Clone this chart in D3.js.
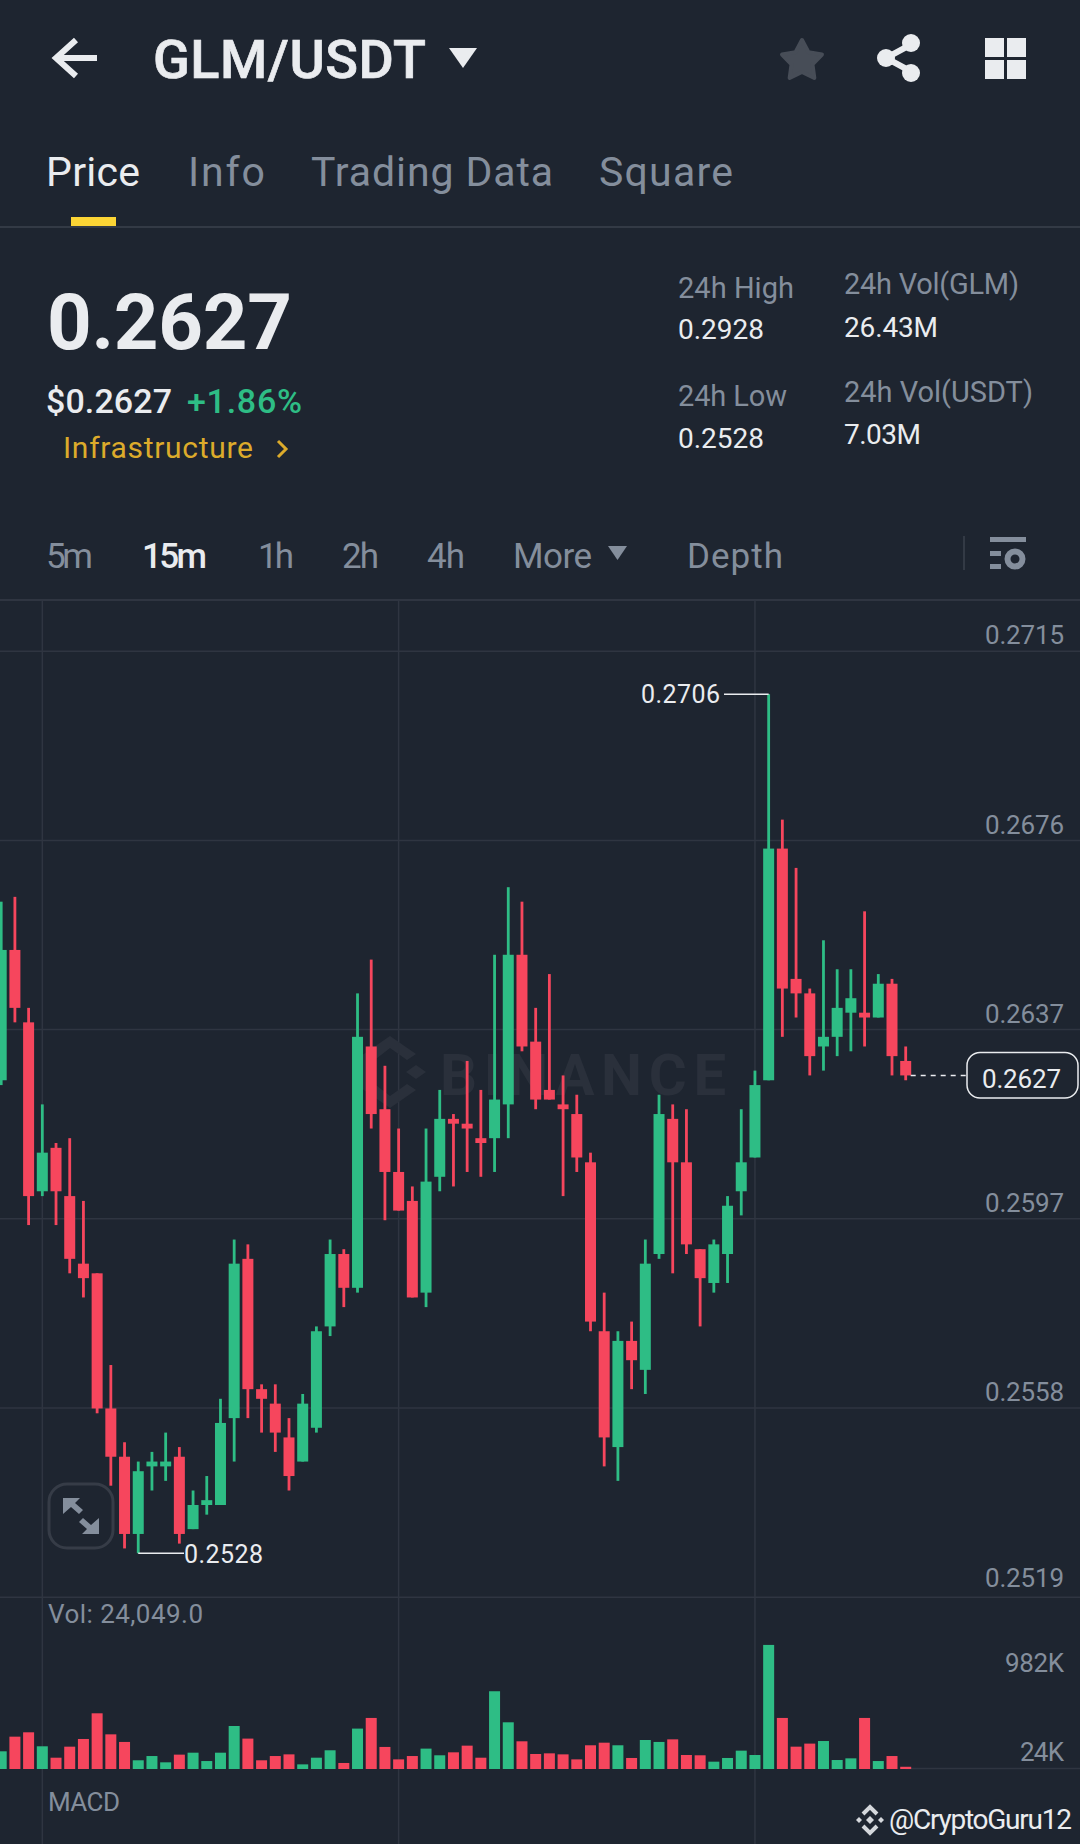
<!DOCTYPE html>
<html>
<head>
<meta charset="utf-8">
<title>GLM/USDT</title>
<script src="https://cdn.jsdelivr.net/npm/d3@7"></script>
<style>
  html, body { margin: 0; padding: 0; background: #1e2530; }
  svg { display: block; }
  text { font-family: Roboto, "Noto Sans", sans-serif; }
</style>
</head>
<body>
<div id="chart"></div>
<script>
// 15m candles, oldest first
var candleOpen = [0.2626,0.2653,0.2638,0.2603,0.2612,0.2602,0.2588,0.2586,0.2558,0.2548,0.2532,0.2546,0.2546,0.2548,0.2533,0.2538,0.2538,0.2556,0.2589,0.2562,0.2559,0.2552,0.2547,0.2554,0.2575,0.2590,0.2583,0.2633,0.2620,0.2607,0.2601,0.2582,0.2606,0.2618,0.2617,0.2614,0.2614,0.2621,0.2652,0.2634,0.2624,0.2621,0.2619,0.2609,0.2574,0.2550,0.2572,0.2566,0.2590,0.2618,0.2609,0.2591,0.2584,0.2590,0.2603,0.2610,0.2626,0.2674,0.2647,0.2644,0.2633,0.2635,0.2640,0.2640,0.2639,0.2646,0.2630];
var candleClose = [0.2653,0.2641,0.2602,0.2611,0.2603,0.2589,0.2585,0.2558,0.2548,0.2532,0.2545,0.2547,0.2547,0.2532,0.2538,0.2539,0.2555,0.2588,0.2562,0.2560,0.2553,0.2544,0.2559,0.2574,0.2590,0.2583,0.2635,0.2619,0.2607,0.2599,0.2581,0.2605,0.2618,0.2617,0.2616,0.2613,0.2622,0.2652,0.2633,0.2622,0.2622,0.2620,0.2610,0.2576,0.2552,0.2572,0.2568,0.2588,0.2619,0.2609,0.2592,0.2585,0.2592,0.2600,0.2609,0.2625,0.2674,0.2645,0.2644,0.2631,0.2635,0.2641,0.2643,0.2639,0.2646,0.2631,0.2627];
var candleHigh = [0.2663,0.2664,0.2641,0.2621,0.2613,0.2614,0.2601,0.2586,0.2567,0.2551,0.2547,0.2549,0.2553,0.2550,0.2541,0.2544,0.2560,0.2593,0.2592,0.2563,0.2563,0.2556,0.2561,0.2575,0.2593,0.2591,0.2644,0.2651,0.2629,0.2616,0.2604,0.2616,0.2624,0.2619,0.2630,0.2624,0.2652,0.2666,0.2663,0.2641,0.2648,0.2627,0.2623,0.2611,0.2582,0.2574,0.2576,0.2593,0.2623,0.2621,0.2620,0.2591,0.2593,0.2602,0.2620,0.2628,0.2706,0.2680,0.2670,0.2645,0.2655,0.2649,0.2649,0.2661,0.2648,0.2647,0.2633];
var candleLow = [0.2625,0.2638,0.2596,0.2602,0.2596,0.2586,0.2581,0.2557,0.2542,0.2529,0.2528,0.2541,0.2543,0.2530,0.2533,0.2536,0.2538,0.2547,0.2556,0.2553,0.2549,0.2541,0.2547,0.2553,0.2573,0.2579,0.2582,0.2616,0.2597,0.2599,0.2581,0.2579,0.2603,0.2604,0.2607,0.2606,0.2607,0.2614,0.2632,0.2620,0.2622,0.2602,0.2607,0.2574,0.2546,0.2543,0.2562,0.2561,0.2589,0.2586,0.2590,0.2575,0.2582,0.2584,0.2598,0.2610,0.2626,0.2635,0.2639,0.2627,0.2628,0.2631,0.2632,0.2633,0.2639,0.2627,0.2626];
// volume per candle, in thousands
var volumes = [191,349,396,245,122,241,324,601,374,292,94,140,72,155,176,86,176,464,328,94,140,158,50,122,202,65,436,551,238,104,140,220,148,180,252,122,839,504,299,162,169,158,104,256,284,256,119,313,292,320,151,148,79,119,198,151,1339,551,241,274,302,97,115,551,86,140,24.049];

var priceTicks = [0.2715,0.26758,0.26366,0.25974,0.25582,0.2519];
var volumeTicks = [24,982];
var volumeLabels = ["24K","982K"];
var volumeLabelWidths = [44,59];
var verticalGridCandles = [3,29,55];

var tabs = [["Price",46,94,"#eaecef"],["Info",188,77,"#848e9c"],["Trading Data",311,242,"#848e9c"],["Square",599,134,"#848e9c"]];
var intervals = [["5m",46,47],["15m",142,65],["1h",258,36],["2h",342,37],["4h",427,38],["More",513,79],["Depth",687,96]];

var UP = "#2ebd85", DOWN = "#f6465d", GREY = "#848e9c", LIGHT = "#eaecef", GRID = "#2f3541";

var svg = d3.select("#chart").append("svg").attr("width",1080).attr("height",1844);
svg.append("rect").attr("width",1080).attr("height",1844).attr("fill","#1e2530");

var x = d3.scaleLinear().domain([0,66]).range([1.2,905.7]);
var y = d3.scaleLinear().domain([0.2715,0.2519]).range([650.7,1596.7]);
var yVol = d3.scaleLinear().domain([0,982]).range([1769,1678]);

// width stretches the text to what the picture measures, the font is narrower
function label(txt, px, py, size, color, width, weight, anchor) {
    var t = svg.append("text").text(txt).attr("x",px).attr("y",py)
        .attr("font-size",size).attr("fill",color)
        .attr("font-weight",weight || 400)
        .attr("text-anchor",anchor || "start");
    if (width) t.attr("textLength",width);
    return t;
}

function drawHeader() {
    // back arrow
    svg.append("path").attr("d","M76 40 L56 58 L76 76 M57 58 H97")
        .attr("fill","none").attr("stroke",LIGHT).attr("stroke-width",6);
    label("GLM/USDT",153,78,54,LIGHT,273,500).attr("stroke",LIGHT).attr("stroke-width",0.7);
    svg.append("path").attr("d","M449 48 H477 L463 68 Z").attr("fill",LIGHT);

    // star, share, grid icons
    var star = d3.lineRadial().curve(d3.curveLinearClosed)
        .angle(function(d, i) { return i*Math.PI/5; })
        .radius(function(d, i) { return i%2 ? 11 : 21; });
    svg.append("path").attr("d",star(d3.range(10))).attr("transform","translate(802,61)")
        .attr("fill","#474d57").attr("stroke","#474d57").attr("stroke-width",4).attr("stroke-linejoin","round");
    svg.append("path").attr("d","M912 44 L886 58 L912 72").attr("fill","none")
        .attr("stroke",LIGHT).attr("stroke-width",6);
    [[911,43],[886,58],[911,73]].forEach(function(p) {
        svg.append("circle").attr("cx",p[0]).attr("cy",p[1]).attr("r",9).attr("fill",LIGHT);
    });
    [[985,38],[1007,38],[985,60],[1007,60]].forEach(function(p) {
        svg.append("rect").attr("x",p[0]).attr("y",p[1]).attr("width",19).attr("height",19).attr("fill",LIGHT);
    });

    // tabs
    tabs.forEach(function(t) { label(t[0],t[1],186,41,t[3],t[2]); });
    svg.append("rect").attr("x",71).attr("y",217).attr("width",45).attr("height",9).attr("fill","#fcd535");
    svg.append("line").attr("x1",0).attr("x2",1080).attr("y1",227).attr("y2",227).attr("stroke","#333a45").attr("stroke-width",2);

    // price block
    label("0.2627",47,349,78,LIGHT,245,700);
    label("$0.2627",46,413,34,LIGHT,126,500);
    label("+1.86%",187,413,34,UP,115,500);
    label("Infrastructure",63,458,30,"#dcab2b",190);
    svg.append("path").attr("d","M278 441 L286 449 L278 457").attr("fill","none").attr("stroke","#dcab2b").attr("stroke-width",3);

    label("24h High",678,298,29,GREY,116);
    label("0.2928",678,339,28,LIGHT,86);
    label("24h Low",678,406,29,GREY,109);
    label("0.2528",678,448,28,LIGHT,86);
    label("24h Vol(GLM)",844,294,29,GREY,175);
    label("26.43M",844,337,28,LIGHT,94);
    label("24h Vol(USDT)",844,402,29,GREY,189);
    label("7.03M",844,444,28,LIGHT,77);

    // interval row
    intervals.forEach(function(t) {
        var on = t[0] == "15m";
        label(t[0],t[1],568,35,on ? LIGHT : GREY,t[2],on ? 500 : 400);
    });
    svg.append("path").attr("d","M608 546 H627 L617.5 560 Z").attr("fill",GREY);
    svg.append("line").attr("x1",964).attr("x2",964).attr("y1",536).attr("y2",570).attr("stroke","#333a45").attr("stroke-width",2);
    svg.append("rect").attr("x",990).attr("y",537).attr("width",36).attr("height",5).attr("fill",GREY);
    svg.append("rect").attr("x",990).attr("y",551).attr("width",11).attr("height",5).attr("fill",GREY);
    svg.append("rect").attr("x",990).attr("y",564).attr("width",11).attr("height",5).attr("fill",GREY);
    svg.append("circle").attr("cx",1015).attr("cy",559).attr("r",7.5).attr("fill","none").attr("stroke",GREY).attr("stroke-width",6);
}

function drawGrid() {
    svg.append("line").attr("x1",0).attr("x2",1080).attr("y1",600).attr("y2",600).attr("stroke",GRID).attr("stroke-width",2);
    svg.selectAll(".vgrid").data(verticalGridCandles).enter().append("line")
        .attr("class","vgrid")
        .attr("x1",function(d) { return x(d); }).attr("x2",function(d) { return x(d); })
        .attr("y1",600).attr("y2",1844)
        .attr("stroke",GRID).attr("stroke-width",1.5);

    var axis = d3.axisLeft(y).tickValues(priceTicks).tickSize(1080).tickFormat(d3.format(".4f"));
    var g = svg.append("g").attr("transform","translate(1080,0)").call(axis);
    g.select(".domain").remove();
    g.selectAll("line").attr("stroke",GRID).attr("stroke-width",1.5);
    // the lowest label sits a little higher than the others
    g.selectAll("text").attr("x",-16).attr("dy",function(d, i) { return i == 5 ? -10.3 : -6.8; })
        .attr("text-anchor","end").attr("font-size",26).attr("fill",GREY)
        .attr("textLength",79);
}

function drawWatermark() {
    // faint exchange mark under the candles
    var mark = svg.append("g").attr("fill","#2a303b");
    mark.append("path").attr("transform","translate(390,1072)")
        .attr("d","M0 -36 L26 -18 L17 -12 L0 -24 L-18 -10 L-18 10 L0 24 L17 12 L26 18 L0 36 L-32 14 L-32 -14 Z");
    mark.append("path").attr("transform","translate(390,1072)").attr("d","M26 -7 L36 0 L26 7 L16 0 Z");
    label("BINANCE",440,1095,58,"#2a303b",286,700);
}

function drawCandles() {
    var data = d3.range(candleOpen.length);
    var colour = function(i) { return candleClose[i] >= candleOpen[i] ? UP : DOWN; };

    svg.selectAll(".wick").data(data).enter().append("rect")
        .attr("class","wick")
        .attr("x",function(i) { return x(i)-1.4; })
        .attr("y",function(i) { return y(candleHigh[i]); })
        .attr("width",2.8)
        .attr("height",function(i) { return y(candleLow[i])-y(candleHigh[i]); })
        .attr("fill",colour);

    svg.selectAll(".body").data(data).enter().append("rect")
        .attr("class","body")
        .attr("x",function(i) { return x(i)-5.5; })
        .attr("y",function(i) { return y(Math.max(candleOpen[i],candleClose[i])); })
        .attr("width",11)
        .attr("height",function(i) { return Math.abs(y(candleOpen[i])-y(candleClose[i])); })
        .attr("fill",colour);

    // high and low markers
    svg.append("path").attr("d","M"+x(56)+" "+y(0.2706)+" H724").attr("fill","none").attr("stroke",LIGHT).attr("stroke-width",1.5);
    label("0.2706",720,703,25,LIGHT,79,400,"end");
    svg.append("path").attr("d","M"+x(10)+" "+y(0.2528)+" H184").attr("fill","none").attr("stroke",LIGHT).attr("stroke-width",1.5);
    label("0.2528",184,1563,25,LIGHT,79);

    // last price tag
    svg.append("line").attr("x1",x(66)+5).attr("x2",967).attr("y1",y(0.2627)).attr("y2",y(0.2627))
        .attr("stroke",LIGHT).attr("stroke-width",1.5).attr("stroke-dasharray","5 5");
    svg.append("rect").attr("x",967).attr("y",1052.5).attr("width",111).attr("height",45.5).attr("rx",13)
        .attr("fill","#1e2530").attr("stroke",LIGHT).attr("stroke-width",1.5);
    label("0.2627",1061,1088,26,LIGHT,79,400,"end");

    // expand button
    svg.append("rect").attr("x",49).attr("y",1484).attr("width",64).attr("height",64).attr("rx",18)
        .attr("fill","none").attr("stroke","#363c47").attr("stroke-width",3);
    svg.append("path").attr("d","M63 1498 H80 L75 1503 L83 1510 L79 1514 L71 1507 L63 1514 Z").attr("fill",GREY);
    svg.append("path").attr("d","M99 1534 H82 L87 1529 L79 1522 L83 1518 L91 1525 L99 1518 Z").attr("fill",GREY);
}

function drawVolume() {
    var data = d3.range(volumes.length);
    svg.append("line").attr("x1",x(66)).attr("x2",1080).attr("y1",yVol(0)-0.5).attr("y2",yVol(0)-0.5).attr("stroke",GRID).attr("stroke-width",1.5);
    svg.selectAll(".vol").data(data).enter().append("rect")
        .attr("class","vol")
        .attr("x",function(i) { return x(i)-5.5; })
        .attr("y",function(i) { return yVol(volumes[i]); })
        .attr("width",11)
        .attr("height",function(i) { return yVol(0)-yVol(volumes[i]); })
        .attr("fill",function(i) { return candleClose[i] >= candleOpen[i] ? UP : DOWN; });

    volumeTicks.forEach(function(v, i) {
        label(volumeLabels[i],1064,yVol(v)-6,26,GREY,volumeLabelWidths[i],400,"end");
    });
    label("Vol: 24,049.0",48,1623,26,GREY,155);
    label("MACD",48,1811,26,GREY,72);
}

function drawFooter() {
    var cx = 870, cy = 1820;
    var diamond = function(dx, dy, r) {
        return "M"+(cx+dx)+" "+(cy+dy-r)+" L"+(cx+dx+r)+" "+(cy+dy)+" L"+(cx+dx)+" "+(cy+dy+r)+" L"+(cx+dx-r)+" "+(cy+dy)+" Z";
    };
    [[0,0,4],[-11,0,3],[11,0,3]].forEach(function(d) {
        svg.append("path").attr("d",diamond(d[0],d[1],d[2])).attr("fill","#d5d8dc");
    });
    svg.append("path").attr("d","M"+(cx-7)+" "+(cy-6)+" L"+cx+" "+(cy-13)+" L"+(cx+7)+" "+(cy-6)+" M"+(cx-7)+" "+(cy+6)+" L"+cx+" "+(cy+13)+" L"+(cx+7)+" "+(cy+6))
        .attr("fill","none").attr("stroke","#d5d8dc").attr("stroke-width",4);
    label("@CryptoGuru12",889,1829,28,LIGHT,183);
}

drawGrid();
drawWatermark();
drawHeader();
drawCandles();
drawVolume();
drawFooter();
</script>
</body>
</html>
